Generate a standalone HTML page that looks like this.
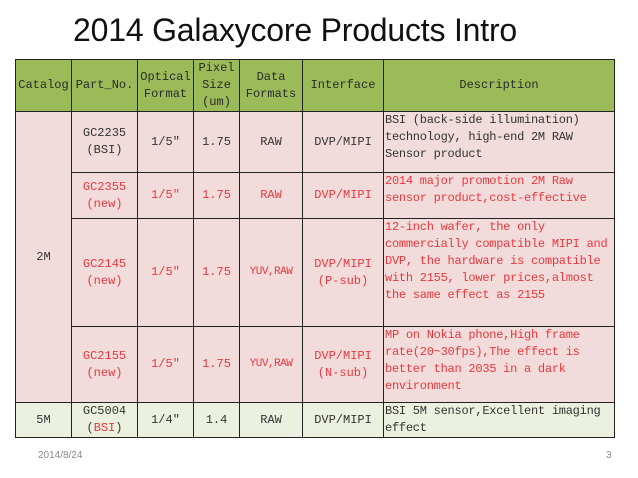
<!DOCTYPE html>
<html><head><meta charset="utf-8"><style>
body{margin:0;width:638px;height:478px;background:#fff;position:relative;overflow:hidden;font-family:"Liberation Mono","Noto Serif CJK SC",monospace;}
#title{position:absolute;left:73px;top:12px;font:32px "Liberation Sans",sans-serif;color:#111;white-space:nowrap;letter-spacing:-0.2px}
table{position:absolute;left:15px;top:59px;border-collapse:collapse;table-layout:fixed;font-size:12px;line-height:17px;color:#333}
td{border:1.3px solid #222;text-align:center;vertical-align:middle;padding:0;overflow:hidden;white-space:nowrap}
tr.h td{background:#9bbb59;color:#2a2a2a}
tr.p td{background:#f2dcdb}
tr.g td{background:#ebf1de}
td.d{text-align:left;padding-left:1px;vertical-align:top;letter-spacing:-0.25px}
.r{color:#e8383d}
#date{position:absolute;left:38px;top:450px;font:10px "Liberation Sans",sans-serif;color:#888}
#pg{position:absolute;left:606px;top:450px;font:10px "Liberation Sans",sans-serif;color:#888}
</style></head><body>
<div id="title">2014 Galaxycore Products Intro</div>
<table>
<colgroup><col style="width:56px"><col style="width:66px"><col style="width:56px"><col style="width:46px"><col style="width:63px"><col style="width:81px"><col style="width:231px"></colgroup>
<tr class="h" style="height:52px"><td>Catalog</td><td>Part_No.</td><td>Optical<br>Format</td><td>Pixel<br>Size<br>(um)</td><td>Data<br>Formats</td><td>Interface</td><td>Description</td></tr>
<tr class="p" style="height:61px"><td rowspan="4" style="background:#f2dcdb">2M</td><td>GC2235<br>(BSI)</td><td>1/5″</td><td>1.75</td><td>RAW</td><td>DVP/MIPI</td><td class="d">BSI (back-side illumination)<br>technology, high-end 2M RAW<br>Sensor product</td></tr>
<tr class="p r" style="height:46px"><td>GC2355<br>(new)</td><td>1/5″</td><td>1.75</td><td>RAW</td><td>DVP/MIPI</td><td class="d">2014 major promotion 2M Raw<br>sensor product,cost-effective</td></tr>
<tr class="p r" style="height:108px"><td>GC2145<br>(new)</td><td>1/5″</td><td>1.75</td><td style="font-size:11px;letter-spacing:-0.5px">YUV,RAW</td><td>DVP/MIPI<br>(P-sub)</td><td class="d">12-inch wafer, the only<br>commercially compatible MIPI and<br>DVP, the hardware is compatible<br>with 2155, lower prices,almost<br>the same effect as 2155</td></tr>
<tr class="p r" style="height:76px"><td>GC2155<br>(new)</td><td>1/5″</td><td>1.75</td><td style="font-size:11px;letter-spacing:-0.5px">YUV,RAW</td><td>DVP/MIPI<br>(N-sub)</td><td class="d">MP on Nokia phone,High frame<br>rate(20~30fps),The effect is<br>better than 2035 in a dark<br>environment</td></tr>
<tr class="g" style="height:35px"><td>5M</td><td>GC5004<br>(<span class="r">BSI</span>)</td><td>1/4″</td><td>1.4</td><td>RAW</td><td>DVP/MIPI</td><td class="d">BSI 5M sensor,Excellent imaging<br>effect</td></tr>
</table>
<div id="date">2014/8/24</div>
<div id="pg">3</div>
</body></html>
